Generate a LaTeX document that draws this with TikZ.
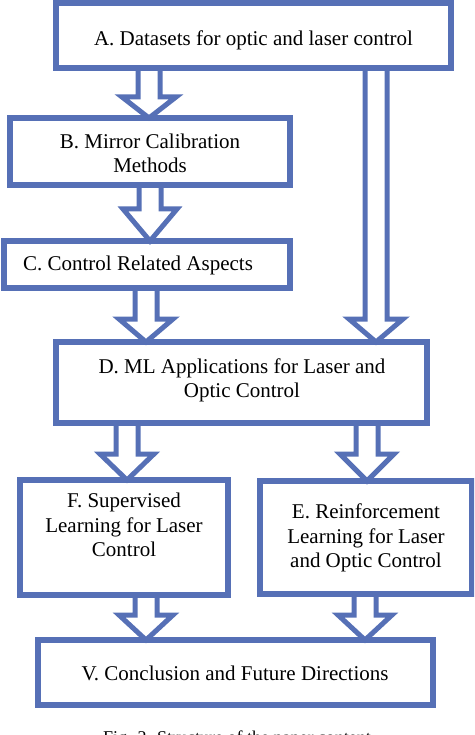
\documentclass[tikz,border=0pt]{standalone}
\usepackage{fontspec}
\setmainfont{Liberation Serif}
\usetikzlibrary{calc}
\definecolor{boxblue}{RGB}{86,112,182}
\tikzset{
  box/.style={draw=boxblue, line width=6pt, rectangle, outer sep=0pt, inner sep=0pt, fill=none},
  txt/.style={align=center, inner sep=0pt, font=\fontsize{21}{24.5}\selectfont},
  arr/.style={draw=boxblue, line width=5pt, line join=miter, miter limit=10},
}
\newcommand{\blockarrow}[4]{% source, target, centre x (px), head base y (px)
  \draw[arr] let \p1=(#1.south), \p2=(#2.north) in
    ({(#3-11)*1pt},\y1) -- ({(#3-11)*1pt},{-#4*1pt}) -- ({(#3-27)*1pt},{-#4*1pt})
    -- ({#3*1pt},\y2) -- ({(#3+27)*1pt},{-#4*1pt}) -- ({(#3+11)*1pt},{-#4*1pt})
    -- ({(#3+11)*1pt},\y1);}
\begin{document}
\begin{tikzpicture}[x=1pt,y=-1pt]
\useasboundingbox (0,0) rectangle (474,735);
\clip (0,0) rectangle (474,735);
% boxes
\node[box, minimum width=395pt, minimum height=64.5pt] (a) at (253.5,35.75) {};
\node[box, minimum width=280pt, minimum height=67pt]   (b) at (150,151.5) {};
\node[box, minimum width=286pt, minimum height=47pt]   (c) at (147,264.5) {};
\node[box, minimum width=371pt, minimum height=81pt]   (d) at (241.5,382.5) {};
\node[box, minimum width=208pt, minimum height=115pt]  (f) at (124,537.5) {};
\node[box, minimum width=212pt, minimum height=113pt]  (e) at (366,537.5) {};
\node[box, minimum width=395pt, minimum height=65pt]   (v) at (235.5,672.5) {};
% texts
\node[txt] (ta) at (253.5,40.1) {A. Datasets for optic and laser control};
\node[txt] (tb) at (150,153.4) {B. Mirror Calibration\\Methods};
\node[txt] (tc) at (138,265.8) {C. Control Related Aspects};
\node[txt] (td) at (242,380.1) {D. ML Applications for Laser and\\Optic Control};
\node[txt] (tf) at (124,524.9) {F. Supervised\\Learning for Laser\\Control};
\node[txt] (te) at (366,538.1) {E. Reinforcement\\Learning for Laser\\and Optic Control};
\node[txt] (tv) at (235,672.9) {V. Conclusion and Future Directions};
\node[anchor=base, inner sep=0pt, font=\fontsize{18}{21}\selectfont] (cap) at (237,743) {Fig. 2. Structure of the paper content};
% block arrows
\blockarrow{a}{b}{149}{97}
\blockarrow{a}{d}{376}{319}
\blockarrow{b}{c}{150}{209}
\blockarrow{c}{d}{146}{319}
\blockarrow{d}{f}{127}{454}
\blockarrow{d}{e}{367}{454}
\blockarrow{f}{v}{146}{615}
\blockarrow{e}{v}{365}{615}
\end{tikzpicture}
\end{document}
